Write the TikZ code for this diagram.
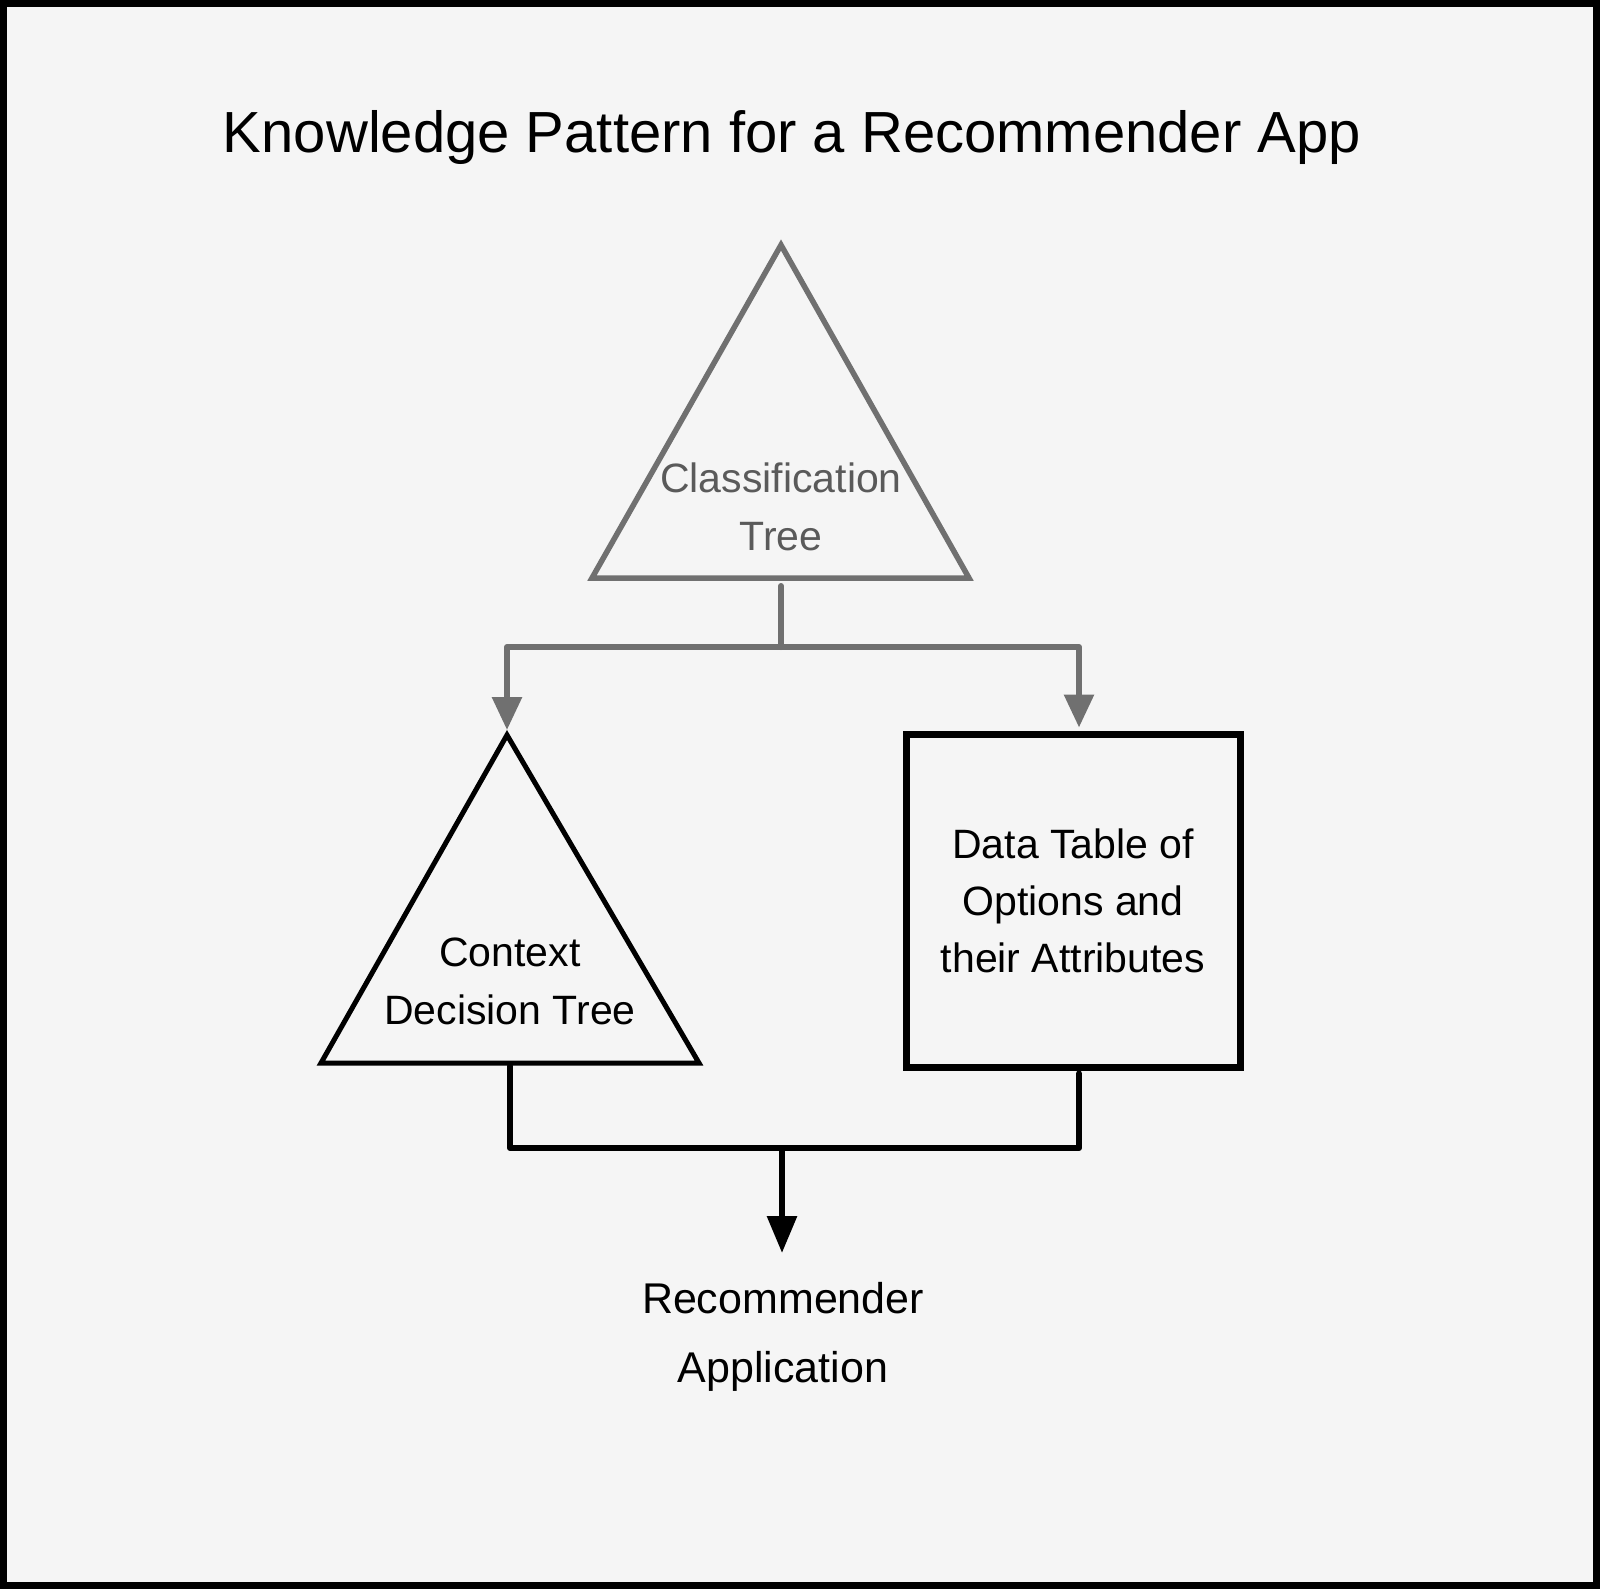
\documentclass[tikz,border=0pt]{standalone}
\usepackage{fontspec}
\setmainfont{Liberation Sans}
\usetikzlibrary{arrows.meta}
\definecolor{bg}{HTML}{F5F5F5}
\definecolor{tgray}{HTML}{707070}
\definecolor{txgray}{HTML}{5A5A5A}
\tikzset{
  graytri/.style={draw=tgray,line width=5.5pt,line join=miter},
  blacktri/.style={draw=black,line width=5pt,line join=miter},
  rectbox/.style={draw=black,line width=7pt,minimum width=334pt,minimum height=333pt,inner sep=0pt,align=center,font=\fontsize{41}{57}\selectfont},
  grayline/.style={draw=tgray,line width=6pt,line cap=round,line join=round},
  blackline/.style={draw=black,line width=6pt,line cap=round,line join=round},
  graytip/.style={-{Triangle[width=29pt,length=33pt]},line cap=butt},
  blacktip/.style={-{Triangle[width=29pt,length=37pt]},line cap=butt},
  lbl/.style={align=center,inner sep=0pt,font=\fontsize{41}{58}\selectfont},
}
\begin{document}
\begin{tikzpicture}[x=1pt,y=-1pt]
\useasboundingbox (0,0) rectangle (1600,1589);
\fill[bg] (0,0) rectangle (1600,1589);
\draw[black,line width=7pt] (3.5,3.5) rectangle (1596,1585.5);

% title
\node[inner sep=0pt,font=\fontsize{58}{70}\selectfont] (title) at (792,138) {Knowledge Pattern for a Recommender App};

% classification tree (gray triangle)
\coordinate (gtA) at (781,245);
\coordinate (gtL) at (592,578);
\coordinate (gtR) at (969,578);
\coordinate (gtB) at (781,586);
\draw[graytri] (gtA) -- (gtL) -- (gtR) -- cycle;
\node[lbl,text=txgray] (gtext) at (781,507) {Classification\\Tree};

% context decision tree (black triangle)
\coordinate (ctA) at (507,735);
\coordinate (ctL) at (321,1063);
\coordinate (ctR) at (699,1063);
\coordinate (ctB) at (510,1066);
\draw[blacktri] (ctA) -- (ctL) -- (ctR) -- cycle;
\node[lbl] (ctext) at (510,981) {Context\\Decision Tree};

% data table
\node[rectbox] (dt) at (1073,900.5) {Data Table of\\Options and\\their Attributes};
\coordinate (dtN) at ([xshift=6pt,yshift=3pt]dt.north);
\coordinate (dtS) at ([xshift=6pt,yshift=-3pt]dt.south);

% recommender application
\node[lbl,font=\fontsize{43}{69}\selectfont] (rec) at (783,1337) {Recommender\\Application};

% gray connectors
\coordinate (j1) at (781,647);
\draw[grayline] (gtB) -- (j1);
\draw[grayline,graytip,shorten >=5pt] (j1) -| (ctA);
\draw[grayline,graytip] (j1) -| (dtN);

% black connectors
\coordinate (j2) at (782,1148);
\coordinate (j3) at (782,1253);
\draw[blackline] (ctB) |- (dtS |- j2) -- (dtS);
\draw[blackline,blacktip] (j2) -- (j3);
\end{tikzpicture}
\end{document}
